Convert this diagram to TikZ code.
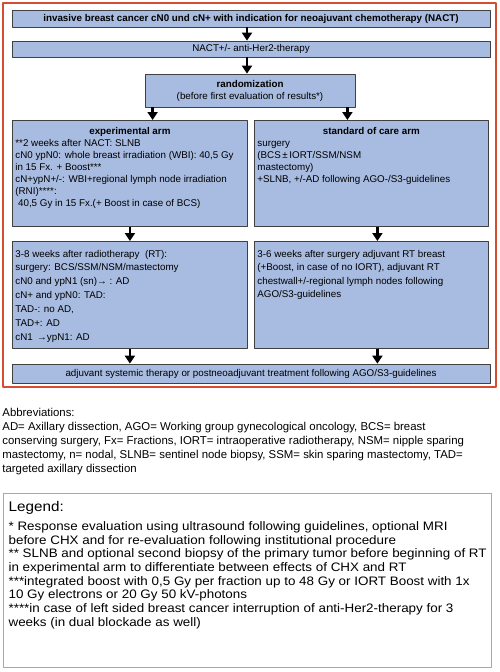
\documentclass[tikz,border=0pt]{standalone}
\usepackage{fontspec}
\setmainfont{Liberation Sans}
\newfontfamily\legfont[FakeStretch=1.09]{Liberation Sans}
\usetikzlibrary{arrows.meta}
\definecolor{boxblue}{RGB}{168,187,224}
\definecolor{boxline}{RGB}{64,64,64}
\definecolor{framered}{RGB}{212,77,48}
\definecolor{legblue}{RGB}{142,170,219}
\newcommand{\topbox}[3]{\parbox[c][#1][t]{#2}{\raggedright#3}}
\begin{document}
\begin{tikzpicture}[x=1pt,y=-1pt,thick,line join=round,
  box/.style={draw=boxline,line width=.8pt,fill=boxblue,inner xsep=3pt,inner ysep=0pt,
    font=\fontsize{9.8}{12}\selectfont},
  arr/.style={line width=2.4pt,-{Triangle[width=10pt,length=8pt]}}]
  \useasboundingbox (0,0) rectangle (499,672);
  \draw[framered,line width=2.5pt] (3,3) rectangle (496,387);
  \node[box,minimum width=478pt,minimum height=17pt] (T1) at (251,18.5)
    {\textbf{invasive breast cancer cN0 und cN+ with indication for neoajuvant chemotherapy (NACT)}};
  \node[box,minimum width=478pt,minimum height=16pt] (N1) at (251,49) {NACT+/- anti-Her2-therapy};
  \node[box,minimum width=210pt,minimum height=33pt,align=center] (R1) at (250,90.5)
    {\textbf{randomization}\\(before first evaluation of results*)};
  \node[box,anchor=north west,minimum width=235pt,minimum height=106pt,inner ysep=6.5pt] (E1) at (12,120)
    {\topbox{93pt}{229pt}{\makebox[\linewidth]{\textbf{experimental arm}}\\
     {}**2 weeks after NACT: SLNB\\
     cN0 ypN0: whole breast irradiation (WBI): 40,5 Gy\\
     in 15 Fx. + Boost***\\
     cN+ypN+/-: WBI+regional lymph node irradiation\\
     (RNI)****:\\
     \ 40,5 Gy in 15 Fx.(+ Boost in case of BCS)}};
  \node[box,anchor=north west,minimum width=234pt,minimum height=106pt,inner ysep=6.5pt] (S1) at (254,120)
    {\topbox{93pt}{228pt}{\makebox[\linewidth]{\textbf{standard of care arm}}\\
     surgery\\
     (BCS\,±\,IORT/SSM/NSM\\
     mastectomy)\\
     +SLNB, +/-AD following AGO-/S3-guidelines}};
  \node[box,anchor=north west,minimum width=235pt,minimum height=107pt,inner ysep=8.5pt] (E2) at (12,241)
    {\topbox{90pt}{229pt}{\fontsize{9.8}{13.9}\selectfont
     3-8 weeks after radiotherapy \ (RT):\\
     surgery: BCS/SSM/NSM/mastectomy\\
     cN0 and ypN1 (sn)→ : AD\\
     cN+ and ypN0: TAD:\\
     TAD-: no AD,\\
     TAD+: AD\\
     cN1 \,→ypN1: AD}};
  \node[box,anchor=north west,minimum width=234pt,minimum height=107pt,inner ysep=8.5pt] (S2) at (254,241)
    {\topbox{90pt}{228pt}{\fontsize{9.8}{13.6}\selectfont
     3-6 weeks after surgery adjuvant RT breast\\
     (+Boost, in case of no IORT), adjuvant RT\\
     chestwall+/-regional lymph nodes following\\
     AGO/S3-guidelines}};
  \node[box,minimum width=478pt,minimum height=19pt] (A1) at (251,373.5)
    {adjuvant systemic therapy or postneoadjuvant treatment following AGO/S3-guidelines};
  \draw[arr] ([xshift=-4pt]T1.south) -- ([xshift=-4pt]N1.north);
  \draw[arr] ([xshift=-4pt]N1.south) -- ([xshift=-4pt]N1.south |- R1.north);
  \draw[arr] ([xshift=8pt]R1.south west) -- ([xshift=8pt]R1.south west |- E1.north);
  \draw[arr] ([xshift=-8pt]R1.south east) -- ([xshift=-8pt]R1.south east |- S1.north);
  \draw[arr] (E1) -- (E2);
  \draw[arr] ([xshift=6pt]S1.south) -- ([xshift=6pt]S2.north);
  \draw[arr] (E2) -- (E2 |- A1.north);
  \draw[arr] ([xshift=6pt]S2.south) -- ([xshift=6pt]S2.south |- A1.north);
  \node[anchor=north west,inner sep=0pt,align=left,font=\fontsize{11.4}{14}\selectfont] (AB) at (2,407.5)
    {Abbreviations:\\
     AD= Axillary dissection, AGO= Working group gynecological oncology, BCS= breast\\
     conserving surgery, Fx= Fractions, IORT= intraoperative radiotherapy, NSM= nipple sparing\\
     mastectomy, n= nodal, SLNB= sentinel node biopsy, SSM= skin sparing mastectomy, TAD=\\
     targeted axillary dissection};
  \node[draw=legblue,line width=1.2pt,anchor=north west,minimum width=488pt,minimum height=174pt,
    inner xsep=5pt,inner ysep=8pt] (LG) at (3,493)
    {\topbox{158pt}{478pt}{\legfont{\fontsize{14}{17}\selectfont Legend:}\\[5pt]
     \fontsize{12.3}{13.7}\selectfont
     {}* Response evaluation using ultrasound following guidelines, optional MRI\\
     before CHX and for re-evaluation following institutional procedure\\
     {}** SLNB and optional second biopsy of the primary tumor before beginning of RT\\
     in experimental arm to differentiate between effects of CHX and RT\\
     {}***integrated boost with 0,5 Gy per fraction up to 48 Gy or IORT Boost with 1x\\
     10 Gy electrons or 20 Gy 50 kV-photons\\
     {}****in case of left sided breast cancer interruption of anti-Her2-therapy for 3\\
     weeks (in dual blockade as well)}};
\end{tikzpicture}
\end{document}
